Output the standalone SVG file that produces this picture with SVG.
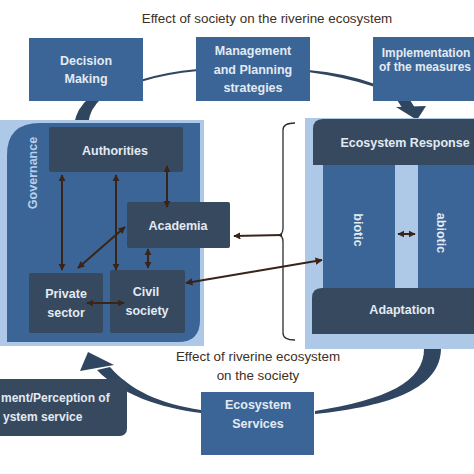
<svg xmlns="http://www.w3.org/2000/svg" width="474" height="474" viewBox="0 0 474 474">
<defs>
<style>
.cap{font-family:"Liberation Sans",Arial,sans-serif;font-size:13.4px;fill:#3d3024;text-anchor:middle}
.lbl{font-family:"Liberation Sans",Arial,sans-serif;font-size:12.5px;font-weight:bold;fill:#e3eaf3;text-anchor:middle}
.mid{fill:#3a6596}
.dark{fill:#36495f}
.light{fill:#adc9e7}
.arc{fill:#2f4560}
.br{stroke:#3a2418;stroke-width:2;fill:none;marker-start:url(#ah);marker-end:url(#ah)}
</style>
<marker id="ah" viewBox="0 0 10 10" refX="9" refY="5" markerWidth="3.6" markerHeight="3.6" orient="auto-start-reverse">
<path d="M0,0 L10,5 L0,10 Z" fill="#3a2418"/>
</marker>
</defs>
<rect width="474" height="474" fill="#ffffff"/>

<g id="cycle">
<path d="M140,81 Q165,73 198,70" stroke="#2f4560" stroke-width="2" fill="none"/>
<path d="M308,70 Q345,73 375,84 L375,87 Q345,77 308,72 Z" class="arc"/>
<path d="M89,98 L102,98 Q90,108 88,124 L74,124 Q77,108 89,98 Z" class="arc"/>
<path d="M397,100 L410,100 L415,108 L403,109 Z" class="arc"/>
<path d="M396,107 L426,106 L417,120 Z" class="arc"/>
<path d="M441,348 C441,388 392,406 315,414 L315,411 C385,400 425,382 424,348 Z" class="arc"/>
<path d="M201,410 C160,404 130,390 110,367 L97,370 C120,394 160,408 201,413 Z" class="arc"/>
<path d="M80,371 L114,365 L88,352 Z" class="arc"/>
</g>

<g id="captions">
<text class="cap" x="267" y="23">Effect of society on the riverine ecosystem</text>
<text class="cap" x="258" y="361">Effect of riverine ecosystem</text>
<text class="cap" x="258" y="380">on the society</text>
</g>

<g id="decision">
<rect class="mid" x="29" y="38" width="114" height="63"/>
<text class="lbl" x="86" y="65">Decision</text>
<text class="lbl" x="86" y="83">Making</text>
</g>
<g id="management">
<rect class="mid" x="196" y="37" width="114" height="64"/>
<text class="lbl" x="253" y="55">Management</text>
<text class="lbl" x="253" y="74">and Planning</text>
<text class="lbl" x="253" y="92">strategies</text>
</g>
<g id="implementation">
<rect class="mid" x="373" y="37" width="110" height="64"/>
<text class="lbl" x="426" y="57" style="font-size:12px">Implementation</text>
<text class="lbl" x="425" y="71" style="font-size:12px">of the measures</text>
</g>

<g id="governance">
<rect class="light" x="0" y="120" width="204" height="226"/>
<path class="mid" d="M7,155 Q7,123 40,123 L200,123 L200,320 Q200,342 178,342 L7,342 Z"/>
<text class="lbl" transform="translate(37,173) rotate(-90)" style="fill:#b4d0ec">Governance</text>
</g>
<g id="authorities">
<rect class="dark" x="49" y="127" width="134" height="45" rx="2"/>
<text class="lbl" x="115" y="155">Authorities</text>
</g>
<g id="academia">
<rect class="dark" x="127" y="202" width="103" height="46" rx="2"/>
<text class="lbl" x="178" y="230">Academia</text>
</g>
<g id="private">
<rect class="dark" x="29" y="273" width="74" height="60" rx="2"/>
<text class="lbl" x="66" y="298">Private</text>
<text class="lbl" x="66" y="317">sector</text>
</g>
<g id="civil">
<rect class="dark" x="110" y="270" width="75" height="63" rx="2"/>
<text class="lbl" x="146" y="296">Civil</text>
<text class="lbl" x="147" y="315">society</text>
</g>

<g id="ecosystem">
<rect class="light" x="305" y="118" width="175" height="231"/>
<rect class="mid" x="323" y="160" width="72" height="135"/>
<rect class="mid" x="418" y="160" width="60" height="135"/>
<text class="lbl" transform="translate(354,230) rotate(90)">biotic</text>
<text class="lbl" transform="translate(437,233) rotate(90)">abiotic</text>
</g>
<g id="response">
<path class="dark" d="M313,129 Q313,119 323,119 L480,119 L480,165 L313,165 Z"/>
<text class="lbl" x="405" y="147">Ecosystem Response</text>
</g>
<g id="adaptation">
<path class="dark" d="M312,298 Q312,288 322,288 L480,288 L480,334 L312,334 Z"/>
<text class="lbl" x="402" y="314">Adaptation</text>
</g>

<g id="services">
<rect class="mid" x="201" y="392" width="113" height="63"/>
<text class="lbl" x="258" y="409">Ecosystem</text>
<text class="lbl" x="258" y="428">Services</text>
</g>
<g id="assessment">
<rect class="dark" x="-10" y="379" width="137" height="57" rx="7"/>
<text class="lbl" x="1" y="402" style="font-size:12px;text-anchor:start">ment/Perception of</text>
<text class="lbl" x="3" y="421" style="font-size:12px;text-anchor:start">ystem service</text>
</g>

<g id="brace">
<path d="M295,123 Q283,123 283,130 L283,228 Q283,235 278,235 Q283,235 283,242 L283,333 Q283,340 295,340" stroke="#2d2d2d" stroke-width="1.3" fill="none"/>
</g>

<g id="connectors">
<line class="br" x1="62" y1="175" x2="62" y2="270"/>
<line class="br" x1="116" y1="175" x2="116" y2="270"/>
<line class="br" x1="167" y1="166" x2="167" y2="207"/>
<line class="br" x1="78" y1="268" x2="125" y2="227"/>
<line class="br" x1="148" y1="249" x2="148" y2="268"/>
<line class="br" x1="87" y1="303" x2="124" y2="303"/>
<line stroke="#3a2418" stroke-width="2" marker-end="url(#ah)" x1="282" y1="235" x2="234" y2="236"/>
<line class="br" x1="186" y1="283" x2="322" y2="260"/>
<line class="br" x1="398" y1="234" x2="415" y2="234"/>
</g>
</svg>
